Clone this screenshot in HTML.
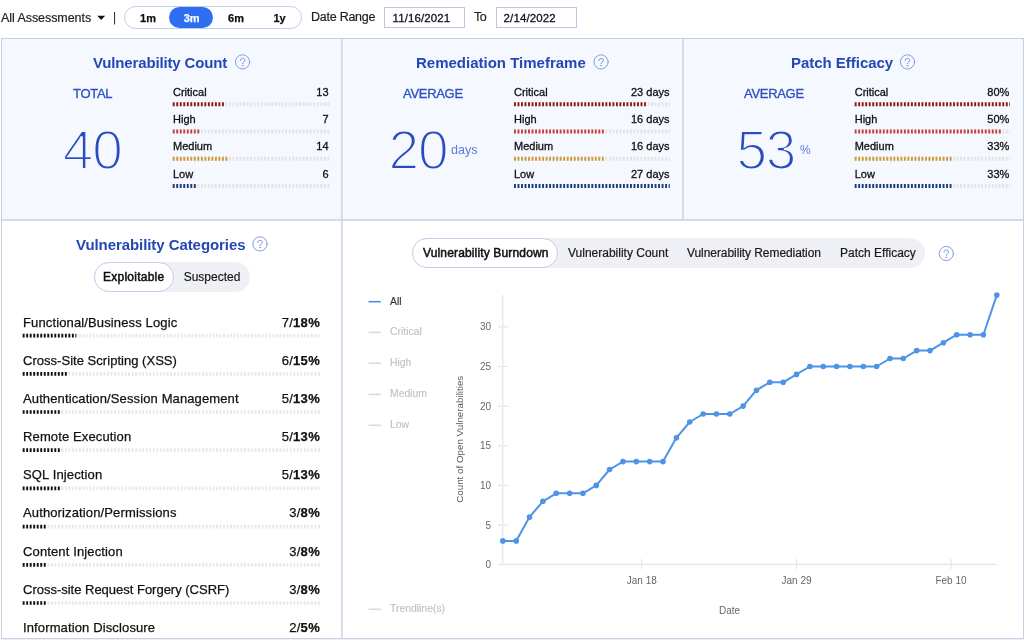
<!DOCTYPE html>
<html>
<head>
<meta charset="utf-8">
<title>Dashboard</title>
<style>
*{box-sizing:border-box;margin:0;padding:0}
html,body{width:1024px;height:641px;overflow:hidden;background:#fff}
body{font-family:"Liberation Sans",sans-serif;color:#1a1a1a;position:relative}
#root{position:absolute;left:0;top:0;width:1024px;height:641px;will-change:transform}
.abs{position:absolute;white-space:nowrap}
.tb{position:absolute;font-size:12.5px;letter-spacing:-0.25px;line-height:14px;color:#1f1f1f;white-space:nowrap;-webkit-text-stroke:0.2px #1f1f1f}
.pill{position:absolute;left:124px;top:6px;width:178px;height:23px;border:1px solid #c3cdea;border-radius:12px;background:#fff}
.pill span{position:absolute;top:0;height:21px;line-height:22px;font-size:11px;font-weight:700;text-align:center;color:#111;width:44px;border-radius:11px;-webkit-text-stroke:0.25px}
.pill span.on{color:#fff}
.pill .onbg{position:absolute;left:44px;top:0;width:44px;height:21px;border-radius:11px;background:#2d6ff0}
.inp{position:absolute;top:7px;height:21px;border:1px solid #bdc7e4;background:#fff;font-size:11.5px;line-height:20.6px;padding-left:7.6px;color:#111;letter-spacing:0.1px;-webkit-text-stroke:0.28px #111}
.card{position:absolute;background:#f5f8fe;border:1px solid #d0d7ea}
.panel{position:absolute;background:#fff;border:1px solid #d0d7ea}
.ttl{position:absolute;font-size:15px;font-weight:700;color:#2447b5;white-space:nowrap;line-height:18px;letter-spacing:-0.15px}
.lab{position:absolute;font-size:13px;color:#2c50c0;white-space:nowrap;line-height:16px;letter-spacing:-0.3px;-webkit-text-stroke:0.3px #2c50c0}
.big{position:absolute;font-size:55px;line-height:55px;color:#2a4cc0;white-space:nowrap;-webkit-text-stroke:2px #f5f8fe;letter-spacing:-1.2px}
.unit{position:absolute;font-size:13px;color:#5f7bd6;line-height:16px;white-space:nowrap}
.n{position:absolute;font-size:11px;line-height:13px;color:#111;white-space:nowrap;-webkit-text-stroke:0.3px #111}
.cn{position:absolute;font-size:13px;line-height:16px;color:#111;white-space:nowrap;letter-spacing:0.15px;-webkit-text-stroke:0.25px #111}
.cn b{font-weight:700}
.seg{position:absolute;background:#eff0f5;border-radius:15px}
.seg .on{position:absolute;left:0;top:0;height:100%;background:#fff;border:1px solid #c3cdea;border-radius:15px}
.seg span{position:absolute;font-size:12px;line-height:14px;color:#1a1a1a;white-space:nowrap;-webkit-text-stroke:0.2px #1a1a1a}
.seg span.b{-webkit-text-stroke:0.5px #111;letter-spacing:0.15px;color:#111}
.lg{position:absolute;font-size:10px;line-height:12px;color:#c4c4c4;white-space:nowrap;left:390px}
.ll{position:absolute;left:368.5px;width:12.3px;height:1.6px;background:#dcdcdc}
</style>
</head>
<body>
<div id="root">
<!-- TOP BAR -->
<div class="tb" style="left:1px;top:11px;letter-spacing:-0.06px">All Assessments</div>
<svg class="abs" style="left:97px;top:15px" width="9" height="6" viewBox="0 0 9 6"><path d="M0.2 0.7 L8.2 0.7 L4.2 5.1 Z" fill="#111"/></svg>
<svg class="abs" style="left:112px;top:10px" width="5" height="17" viewBox="0 0 5 17"><path d="M2.55 2.1V14.5" stroke="#333" stroke-width="1.05" fill="none"/></svg>
<div class="pill">
  <span style="left:1px">1m</span><i class="onbg"></i><span class="on" style="left:44.7px">3m</span><span style="left:89px">6m</span><span style="left:132.6px">1y</span>
</div>
<div class="tb" style="left:311px;top:10px">Date Range</div>
<div class="inp" style="left:384px;width:81px">11/16/2021</div>
<div class="tb" style="left:474px;top:10px;letter-spacing:-0.6px">To</div>
<div class="inp" style="left:496px;width:81px;padding-left:6.6px">2/14/2022</div>

<!-- PANELS -->
<div class="abs" style="left:1px;top:38px;width:1023px;height:601px;background:#fff;border:1px solid #c8cfe3"></div>
<div class="abs" style="left:2px;top:39px;width:1021px;height:181px;background:#f5f8fe"></div>
<div class="abs" style="left:2px;top:219px;width:1021px;height:2px;background:#d6dbe9"></div>
<div class="abs" style="left:341px;top:39px;width:1px;height:599px;background:#d1d7e8"></div>
<div class="abs" style="left:342px;top:39px;width:1px;height:599px;background:#dfe3ef"></div>
<div class="abs" style="left:682px;top:39px;width:2px;height:180px;background:#d5dbea"></div>
<div class="abs" style="left:341px;top:219px;width:2px;height:2px;background:#cbd2e4"></div>
<div class="abs" style="left:2px;top:639px;width:1022px;height:1px;background:#eef0f6"></div>

<!-- card 1 -->
<div class="ttl" style="left:93px;top:53.6px">Vulnerability Count</div>
<svg class="abs" style="left:233px;top:52px" width="19" height="19" viewBox="0 0 19 19"><g transform="translate(1.55 1.90)" fill="none" stroke="#6c88da" stroke-linecap="round"><circle cx="8" cy="8" r="7.1" stroke-width="0.95" stroke="#7d96e0"/><path d="M5.75 6.6C5.75 5.3 6.75 4.6 8 4.6C9.35 4.6 10.3 5.3 10.3 6.4C10.3 7.4 9.6 7.9 8.95 8.4C8.3 8.9 8 9.2 8 9.8" stroke-width="0.95"/><circle cx="8" cy="11.8" r="0.35" stroke-width="0.7" fill="#6c88da"/></g></svg>
<div class="lab" style="left:73px;top:86px">TOTAL</div>
<div class="big" style="left:62.8px;top:123.1px">40</div>
<div class="n" style="left:173px;top:86px">Critical</div>
<div class="n" style="left:173px;top:86px;width:155.60000000000002px;text-align:right">13</div>
<svg class="abs" style="left:171px;top:101px" width="161" height="7" viewBox="0 0 161 7"><path d="M1.75 3.35H158.35" stroke="#e3e4e2" stroke-width="4" stroke-dasharray="1.9 1.615" fill="none"/><path d="M1.75 3.35H52.96" stroke="#8f1a12" stroke-width="4" stroke-dasharray="1.9 1.615" fill="none"/></svg>
<div class="n" style="left:173px;top:113px">High</div>
<div class="n" style="left:173px;top:113px;width:155.60000000000002px;text-align:right">7</div>
<svg class="abs" style="left:171px;top:128px" width="161" height="7" viewBox="0 0 161 7"><path d="M1.75 3.55H158.35" stroke="#e3e4e2" stroke-width="4" stroke-dasharray="1.9 1.615" fill="none"/><path d="M1.75 3.55H28.36" stroke="#c8403a" stroke-width="4" stroke-dasharray="1.9 1.615" fill="none"/></svg>
<div class="n" style="left:173px;top:140.4px">Medium</div>
<div class="n" style="left:173px;top:140.4px;width:155.60000000000002px;text-align:right">14</div>
<svg class="abs" style="left:171px;top:155px" width="161" height="7" viewBox="0 0 161 7"><path d="M1.75 3.75H158.35" stroke="#e3e4e2" stroke-width="4" stroke-dasharray="1.9 1.615" fill="none"/><path d="M1.75 3.75H56.48" stroke="#cf9a3a" stroke-width="4" stroke-dasharray="1.9 1.615" fill="none"/></svg>
<div class="n" style="left:173px;top:167.6px">Low</div>
<div class="n" style="left:173px;top:167.6px;width:155.60000000000002px;text-align:right">6</div>
<svg class="abs" style="left:171px;top:182px" width="161" height="7" viewBox="0 0 161 7"><path d="M1.75 3.95H158.35" stroke="#e3e4e2" stroke-width="4" stroke-dasharray="1.9 1.615" fill="none"/><path d="M1.75 3.95H24.84" stroke="#1c3c7c" stroke-width="4" stroke-dasharray="1.9 1.615" fill="none"/></svg>

<!-- card 2 -->
<div class="ttl" style="left:416px;top:53.6px;letter-spacing:0">Remediation Timeframe</div>
<svg class="abs" style="left:592px;top:52px" width="19" height="19" viewBox="0 0 19 19"><g transform="translate(1.10 1.90)" fill="none" stroke="#6c88da" stroke-linecap="round"><circle cx="8" cy="8" r="7.1" stroke-width="0.95" stroke="#7d96e0"/><path d="M5.75 6.6C5.75 5.3 6.75 4.6 8 4.6C9.35 4.6 10.3 5.3 10.3 6.4C10.3 7.4 9.6 7.9 8.95 8.4C8.3 8.9 8 9.2 8 9.8" stroke-width="0.95"/><circle cx="8" cy="11.8" r="0.35" stroke-width="0.7" fill="#6c88da"/></g></svg>
<div class="lab" style="left:403px;top:86px">AVERAGE</div>
<div class="big" style="left:388.6px;top:123.1px">20</div>
<div class="unit" style="left:451px;top:142px;font-size:12.6px">days</div>
<div class="n" style="left:514px;top:86px">Critical</div>
<div class="n" style="left:514px;top:86px;width:155.5px;text-align:right">23 days</div>
<svg class="abs" style="left:513px;top:101px" width="160" height="7" viewBox="0 0 160 7"><path d="M1.00 3.35H156.75" stroke="#e3e4e2" stroke-width="4" stroke-dasharray="1.9 1.615" fill="none"/><path d="M1.00 3.35H133.06" stroke="#8f1a12" stroke-width="4" stroke-dasharray="1.9 1.615" fill="none"/></svg>
<div class="n" style="left:514px;top:113px">High</div>
<div class="n" style="left:514px;top:113px;width:155.5px;text-align:right">16 days</div>
<svg class="abs" style="left:513px;top:128px" width="160" height="7" viewBox="0 0 160 7"><path d="M1.00 3.55H156.75" stroke="#e3e4e2" stroke-width="4" stroke-dasharray="1.9 1.615" fill="none"/><path d="M1.00 3.55H90.88" stroke="#c8403a" stroke-width="4" stroke-dasharray="1.9 1.615" fill="none"/></svg>
<div class="n" style="left:514px;top:140.4px">Medium</div>
<div class="n" style="left:514px;top:140.4px;width:155.5px;text-align:right">16 days</div>
<svg class="abs" style="left:513px;top:155px" width="160" height="7" viewBox="0 0 160 7"><path d="M1.00 3.75H156.75" stroke="#e3e4e2" stroke-width="4" stroke-dasharray="1.9 1.615" fill="none"/><path d="M1.00 3.75H90.88" stroke="#cf9a3a" stroke-width="4" stroke-dasharray="1.9 1.615" fill="none"/></svg>
<div class="n" style="left:514px;top:167.6px">Low</div>
<div class="n" style="left:514px;top:167.6px;width:155.5px;text-align:right">27 days</div>
<svg class="abs" style="left:513px;top:182px" width="160" height="7" viewBox="0 0 160 7"><path d="M1.00 3.95H156.75" stroke="#e3e4e2" stroke-width="4" stroke-dasharray="1.9 1.615" fill="none"/><path d="M1.00 3.95H156.75" stroke="#1c3c7c" stroke-width="4" stroke-dasharray="1.9 1.615" fill="none"/></svg>

<!-- card 3 -->
<div class="ttl" style="left:791px;top:53.6px;letter-spacing:-0.03px">Patch Efficacy</div>
<svg class="abs" style="left:898px;top:52px" width="19" height="19" viewBox="0 0 19 19"><g transform="translate(1.50 1.90)" fill="none" stroke="#6c88da" stroke-linecap="round"><circle cx="8" cy="8" r="7.1" stroke-width="0.95" stroke="#7d96e0"/><path d="M5.75 6.6C5.75 5.3 6.75 4.6 8 4.6C9.35 4.6 10.3 5.3 10.3 6.4C10.3 7.4 9.6 7.9 8.95 8.4C8.3 8.9 8 9.2 8 9.8" stroke-width="0.95"/><circle cx="8" cy="11.8" r="0.35" stroke-width="0.7" fill="#6c88da"/></g></svg>
<div class="lab" style="left:744px;top:86px">AVERAGE</div>
<div class="big" style="left:736.4px;top:123.1px">53</div>
<div class="unit" style="left:800px;top:141.6px;font-size:12px">%</div>
<div class="n" style="left:854.7px;top:86px">Critical</div>
<div class="n" style="left:854.7px;top:86px;width:154.69999999999993px;text-align:right">80%</div>
<svg class="abs" style="left:853px;top:101px" width="160" height="7" viewBox="0 0 160 7"><path d="M1.70 3.35H157.00" stroke="#e3e4e2" stroke-width="4" stroke-dasharray="1.9 1.615" fill="none"/><path d="M1.70 3.35H157.00" stroke="#8f1a12" stroke-width="4" stroke-dasharray="1.9 1.615" fill="none"/></svg>
<div class="n" style="left:854.7px;top:113px">High</div>
<div class="n" style="left:854.7px;top:113px;width:154.69999999999993px;text-align:right">50%</div>
<svg class="abs" style="left:853px;top:128px" width="160" height="7" viewBox="0 0 160 7"><path d="M1.70 3.55H157.00" stroke="#e3e4e2" stroke-width="4" stroke-dasharray="1.9 1.615" fill="none"/><path d="M1.70 3.55H147.82" stroke="#c8403a" stroke-width="4" stroke-dasharray="1.9 1.615" fill="none"/></svg>
<div class="n" style="left:854.7px;top:140.4px">Medium</div>
<div class="n" style="left:854.7px;top:140.4px;width:154.69999999999993px;text-align:right">33%</div>
<svg class="abs" style="left:853px;top:155px" width="160" height="7" viewBox="0 0 160 7"><path d="M1.70 3.75H157.00" stroke="#e3e4e2" stroke-width="4" stroke-dasharray="1.9 1.615" fill="none"/><path d="M1.70 3.75H98.61" stroke="#cf9a3a" stroke-width="4" stroke-dasharray="1.9 1.615" fill="none"/></svg>
<div class="n" style="left:854.7px;top:167.6px">Low</div>
<div class="n" style="left:854.7px;top:167.6px;width:154.69999999999993px;text-align:right">33%</div>
<svg class="abs" style="left:853px;top:182px" width="160" height="7" viewBox="0 0 160 7"><path d="M1.70 3.95H157.00" stroke="#e3e4e2" stroke-width="4" stroke-dasharray="1.9 1.615" fill="none"/><path d="M1.70 3.95H98.61" stroke="#1c3c7c" stroke-width="4" stroke-dasharray="1.9 1.615" fill="none"/></svg>

<!-- categories -->
<div class="ttl" style="left:76px;top:235.6px;letter-spacing:-0.07px">Vulnerability Categories</div>
<svg class="abs" style="left:251px;top:234px" width="19" height="19" viewBox="0 0 19 19"><g transform="translate(1.00 1.90)" fill="none" stroke="#6c88da" stroke-linecap="round"><circle cx="8" cy="8" r="7.1" stroke-width="0.95" stroke="#7d96e0"/><path d="M5.75 6.6C5.75 5.3 6.75 4.6 8 4.6C9.35 4.6 10.3 5.3 10.3 6.4C10.3 7.4 9.6 7.9 8.95 8.4C8.3 8.9 8 9.2 8 9.8" stroke-width="0.95"/><circle cx="8" cy="11.8" r="0.35" stroke-width="0.7" fill="#6c88da"/></g></svg>
<div class="seg" style="left:94px;top:262px;width:156px;height:30px">
  <div class="on" style="width:80px"></div>
  <span class="b" style="left:9px;top:8px;letter-spacing:0.25px">Exploitable</span>
  <span style="left:89.7px;top:8px">Suspected</span>
</div>
<div class="cn" style="left:23px;top:315px;letter-spacing:0.13px">Functional/Business Logic</div>
<div class="cn" style="left:23px;top:315px;width:297px;text-align:right;letter-spacing:0.3px">7/<b>18%</b></div>
<svg class="abs" style="left:21px;top:332px" width="302" height="7" viewBox="0 0 302 7"><path d="M1.70 3.60H299.70" stroke="#e8e8e8" stroke-width="3.7" stroke-dasharray="1.9 1.615" fill="none"/><path d="M1.70 3.60H55.34" stroke="#111" stroke-width="3.7" stroke-dasharray="1.9 1.615" fill="none"/></svg>
<div class="cn" style="left:23px;top:353px;letter-spacing:0.03px">Cross-Site Scripting (XSS)</div>
<div class="cn" style="left:23px;top:353px;width:297px;text-align:right;letter-spacing:0.3px">6/<b>15%</b></div>
<svg class="abs" style="left:21px;top:370px" width="302" height="7" viewBox="0 0 302 7"><path d="M1.70 3.80H299.70" stroke="#e8e8e8" stroke-width="3.7" stroke-dasharray="1.9 1.615" fill="none"/><path d="M1.70 3.80H46.40" stroke="#111" stroke-width="3.7" stroke-dasharray="1.9 1.615" fill="none"/></svg>
<div class="cn" style="left:23px;top:391px;letter-spacing:0.12px">Authentication/Session Management</div>
<div class="cn" style="left:23px;top:391px;width:297px;text-align:right;letter-spacing:0.3px">5/<b>13%</b></div>
<svg class="abs" style="left:21px;top:409px" width="302" height="7" viewBox="0 0 302 7"><path d="M1.70 3.00H299.70" stroke="#e8e8e8" stroke-width="3.7" stroke-dasharray="1.9 1.615" fill="none"/><path d="M1.70 3.00H40.44" stroke="#111" stroke-width="3.7" stroke-dasharray="1.9 1.615" fill="none"/></svg>
<div class="cn" style="left:23px;top:429px;letter-spacing:0.13px">Remote Execution</div>
<div class="cn" style="left:23px;top:429px;width:297px;text-align:right;letter-spacing:0.3px">5/<b>13%</b></div>
<svg class="abs" style="left:21px;top:447px" width="302" height="7" viewBox="0 0 302 7"><path d="M1.70 3.20H299.70" stroke="#e8e8e8" stroke-width="3.7" stroke-dasharray="1.9 1.615" fill="none"/><path d="M1.70 3.20H40.44" stroke="#111" stroke-width="3.7" stroke-dasharray="1.9 1.615" fill="none"/></svg>
<div class="cn" style="left:23px;top:467px;letter-spacing:0.13px">SQL Injection</div>
<div class="cn" style="left:23px;top:467px;width:297px;text-align:right;letter-spacing:0.3px">5/<b>13%</b></div>
<svg class="abs" style="left:21px;top:485px" width="302" height="7" viewBox="0 0 302 7"><path d="M1.70 3.40H299.70" stroke="#e8e8e8" stroke-width="3.7" stroke-dasharray="1.9 1.615" fill="none"/><path d="M1.70 3.40H40.44" stroke="#111" stroke-width="3.7" stroke-dasharray="1.9 1.615" fill="none"/></svg>
<div class="cn" style="left:23px;top:505px;letter-spacing:0.13px">Authorization/Permissions</div>
<div class="cn" style="left:23px;top:505px;width:297px;text-align:right;letter-spacing:0.3px">3/<b>8%</b></div>
<svg class="abs" style="left:21px;top:523px" width="302" height="7" viewBox="0 0 302 7"><path d="M1.70 3.60H299.70" stroke="#e8e8e8" stroke-width="3.7" stroke-dasharray="1.9 1.615" fill="none"/><path d="M1.70 3.60H25.54" stroke="#111" stroke-width="3.7" stroke-dasharray="1.9 1.615" fill="none"/></svg>
<div class="cn" style="left:23px;top:544px;letter-spacing:0.13px">Content Injection</div>
<div class="cn" style="left:23px;top:544px;width:297px;text-align:right;letter-spacing:0.3px">3/<b>8%</b></div>
<svg class="abs" style="left:21px;top:561px" width="302" height="7" viewBox="0 0 302 7"><path d="M1.70 3.80H299.70" stroke="#e8e8e8" stroke-width="3.7" stroke-dasharray="1.9 1.615" fill="none"/><path d="M1.70 3.80H25.54" stroke="#111" stroke-width="3.7" stroke-dasharray="1.9 1.615" fill="none"/></svg>
<div class="cn" style="left:23px;top:582px;letter-spacing:-0.01px">Cross-site Request Forgery (CSRF)</div>
<div class="cn" style="left:23px;top:582px;width:297px;text-align:right;letter-spacing:0.3px">3/<b>8%</b></div>
<svg class="abs" style="left:21px;top:600px" width="302" height="7" viewBox="0 0 302 7"><path d="M1.70 3.00H299.70" stroke="#e8e8e8" stroke-width="3.7" stroke-dasharray="1.9 1.615" fill="none"/><path d="M1.70 3.00H25.54" stroke="#111" stroke-width="3.7" stroke-dasharray="1.9 1.615" fill="none"/></svg>
<div class="cn" style="left:23px;top:620px;letter-spacing:0.13px">Information Disclosure</div>
<div class="cn" style="left:23px;top:620px;width:297px;text-align:right;letter-spacing:0.3px">2/<b>5%</b></div>

<!-- chart panel -->
<div class="seg" style="left:412px;top:238px;width:513px;height:30px">
  <div class="on" style="width:146px"></div>
  <span class="b" style="left:11px;top:8px">Vulnerability Burndown</span>
  <span style="left:156px;top:8px">Vulnerability Count</span>
  <span style="left:275px;top:8px;letter-spacing:-0.07px">Vulnerability Remediation</span>
  <span style="left:428px;top:8px">Patch Efficacy</span>
</div>
<svg class="abs" style="left:937px;top:244px" width="19" height="19" viewBox="0 0 19 19"><g transform="translate(1.30 1.50)" fill="none" stroke="#6c88da" stroke-linecap="round"><circle cx="8" cy="8" r="7.1" stroke-width="0.95" stroke="#7d96e0"/><path d="M5.75 6.6C5.75 5.3 6.75 4.6 8 4.6C9.35 4.6 10.3 5.3 10.3 6.4C10.3 7.4 9.6 7.9 8.95 8.4C8.3 8.9 8 9.2 8 9.8" stroke-width="0.95"/><circle cx="8" cy="11.8" r="0.35" stroke-width="0.7" fill="#6c88da"/></g></svg>
<svg class="abs" style="left:342px;top:280px" width="681" height="357" viewBox="342 280 681 357" font-family="Liberation Sans" font-size="10" fill="#666">
  <g stroke="#e4e5ea" stroke-width="1.2" fill="none">
    <path d="M502.8 295 V564.4 H996.5"/>
    <path d="M498 564.4H503M498 525.1H508M498 485.4H508M498 445.8H508M498 406.1H508M498 366.5H508M498 326.8H508"/>
    <path d="M641.8 559V569 M796.5 559V569 M951 559V569"/>
  </g>
  <g text-anchor="end"><text x="491" y="568.3">0</text><text x="491" y="528.7">5</text><text x="491" y="489.0">10</text><text x="491" y="449.4">15</text><text x="491" y="409.7">20</text><text x="491" y="370.1">25</text><text x="491" y="330.4">30</text></g>
  <g text-anchor="middle">
    <text x="641.8" y="584">Jan 18</text><text x="796.5" y="584">Jan 29</text><text x="951" y="584">Feb 10</text>
    <text x="729.6" y="614">Date</text>
    <text transform="translate(462.6,439.3) rotate(-90)" x="0" y="0" font-size="9.8" fill="#5a5a5a">Count of Open Vulnerabilities</text>
  </g>
  <path d="M502.8 540.9L516.2 540.9L529.5 517.1L542.9 501.3L556.2 493.3L569.6 493.3L582.9 493.3L596.3 485.4L609.6 469.5L623.0 461.6L636.3 461.6L649.7 461.6L663.0 461.6L676.4 437.8L689.7 422.0L703.1 414.0L716.4 414.0L729.8 414.0L743.1 406.1L756.5 390.2L769.8 382.3L783.2 382.3L796.5 374.4L809.9 366.5L823.2 366.5L836.6 366.5L849.9 366.5L863.3 366.5L876.6 366.5L890.0 358.5L903.3 358.5L916.7 350.6L930.0 350.6L943.4 342.7L956.7 334.7L970.1 334.7L983.4 334.7L996.8 295.1" fill="none" stroke="#4d93e8" stroke-width="2" stroke-linejoin="round"/><g fill="#4d93e8"><circle cx="502.8" cy="540.9" r="2.8"/><circle cx="516.2" cy="540.9" r="2.8"/><circle cx="529.5" cy="517.1" r="2.8"/><circle cx="542.9" cy="501.3" r="2.8"/><circle cx="556.2" cy="493.3" r="2.8"/><circle cx="569.6" cy="493.3" r="2.8"/><circle cx="582.9" cy="493.3" r="2.8"/><circle cx="596.3" cy="485.4" r="2.8"/><circle cx="609.6" cy="469.5" r="2.8"/><circle cx="623.0" cy="461.6" r="2.8"/><circle cx="636.3" cy="461.6" r="2.8"/><circle cx="649.7" cy="461.6" r="2.8"/><circle cx="663.0" cy="461.6" r="2.8"/><circle cx="676.4" cy="437.8" r="2.8"/><circle cx="689.7" cy="422.0" r="2.8"/><circle cx="703.1" cy="414.0" r="2.8"/><circle cx="716.4" cy="414.0" r="2.8"/><circle cx="729.8" cy="414.0" r="2.8"/><circle cx="743.1" cy="406.1" r="2.8"/><circle cx="756.5" cy="390.2" r="2.8"/><circle cx="769.8" cy="382.3" r="2.8"/><circle cx="783.2" cy="382.3" r="2.8"/><circle cx="796.5" cy="374.4" r="2.8"/><circle cx="809.9" cy="366.5" r="2.8"/><circle cx="823.2" cy="366.5" r="2.8"/><circle cx="836.6" cy="366.5" r="2.8"/><circle cx="849.9" cy="366.5" r="2.8"/><circle cx="863.3" cy="366.5" r="2.8"/><circle cx="876.6" cy="366.5" r="2.8"/><circle cx="890.0" cy="358.5" r="2.8"/><circle cx="903.3" cy="358.5" r="2.8"/><circle cx="916.7" cy="350.6" r="2.8"/><circle cx="930.0" cy="350.6" r="2.8"/><circle cx="943.4" cy="342.7" r="2.8"/><circle cx="956.7" cy="334.7" r="2.8"/><circle cx="970.1" cy="334.7" r="2.8"/><circle cx="983.4" cy="334.7" r="2.8"/><circle cx="996.8" cy="295.1" r="2.8"/></g>
  <path d="M368.5 301.7H380.8" stroke="#4a90e2" stroke-width="1.6" fill="none"/><text x="390" y="304.7" font-size="10.4" fill="#333" stroke="#333" stroke-width="0.15">All</text>
<path d="M368.5 332.4H380.8" stroke="#dadada" stroke-width="1.6" fill="none"/><text x="390" y="335.4" font-size="10.4" fill="#c2c2c2" stroke="#c2c2c2" stroke-width="0.15">Critical</text>
<path d="M368.5 363.2H380.8" stroke="#dadada" stroke-width="1.6" fill="none"/><text x="390" y="366.2" font-size="10.4" fill="#c2c2c2" stroke="#c2c2c2" stroke-width="0.15">High</text>
<path d="M368.5 394.4H380.8" stroke="#dadada" stroke-width="1.6" fill="none"/><text x="390" y="397.4" font-size="10.4" fill="#c2c2c2" stroke="#c2c2c2" stroke-width="0.15">Medium</text>
<path d="M368.5 425.3H380.8" stroke="#dadada" stroke-width="1.6" fill="none"/><text x="390" y="428.3" font-size="10.4" fill="#c2c2c2" stroke="#c2c2c2" stroke-width="0.15">Low</text>
<path d="M368.5 609.3H380.8" stroke="#dadada" stroke-width="1.6" fill="none"/><text x="390" y="612.3" font-size="10.4" fill="#c2c2c2" stroke="#c2c2c2" stroke-width="0.15">Trendline(s)</text>

</svg>
</div>
</body>
</html>
